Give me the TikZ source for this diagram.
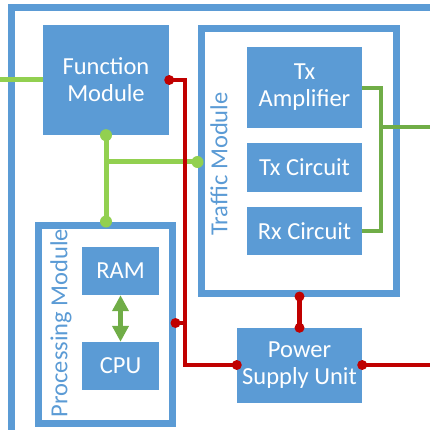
\documentclass[tikz,border=0pt]{standalone}
\usepackage{fontspec}
\setmainfont{Carlito}
\usetikzlibrary{arrows.meta}
\definecolor{mblue}{HTML}{5B9BD5}
\definecolor{lgreen}{HTML}{92D050}
\definecolor{dgreen}{HTML}{70AD47}
\definecolor{dred}{HTML}{C00000}
\tikzset{
  blk/.style={fill=mblue, draw=none, text=white, align=center, inner sep=0pt,
    font=\fontsize{24.5}{27}\selectfont},
  frm/.style={draw=mblue, line width=7pt, fill=none, inner sep=0pt},
  flabel/.style={text=mblue, rotate=90, font=\fontsize{24.5}{27}\selectfont, inner sep=0pt},
  gline/.style={draw=lgreen, line width=5pt},
  rline/.style={draw=dred, line width=4.5pt},
  dgline/.style={draw=dgreen, line width=4.5pt},
  gdot/.style={fill=lgreen},
  rdot/.style={fill=dred},
}
\begin{document}
\begin{tikzpicture}[x=1pt,y=-1pt]
\useasboundingbox (0,0) rectangle (430,430);
\clip (0,0) rectangle (430,430);
% outer frame
\node[frm, minimum width=460pt, minimum height=460pt, anchor=north west] (outer) at (7.5,4.5) {};
% frames
\node[frm, minimum width=195pt, minimum height=264pt] (tm) at (298.5,161) {};
\node[frm, minimum width=134pt, minimum height=198pt] (pm) at (105,324) {};
\node[flabel] (tml) at (219,164) {Traffic Module};
\node[flabel] (pml) at (61,323) {Processing Module};
% blocks
\node[blk, minimum width=126pt, minimum height=110pt] (fm) at (106,80) {Function\\Module};
\node[blk, minimum width=115pt, minimum height=81pt] (txa) at (304.5,87.5) {Tx\\Amplifier};
\node[blk, minimum width=115pt, minimum height=49pt] (txc) at (304.5,167.5) {Tx Circuit};
\node[blk, minimum width=115pt, minimum height=48pt] (rxc) at (304.5,231) {Rx Circuit};
\node[blk, minimum width=125pt, minimum height=75pt] (psu) at (299.5,365.5) {Power\\Supply Unit};
\node[blk, minimum width=77pt, minimum height=48pt] (ram) at (120.5,271) {RAM};
\node[blk, minimum width=77pt, minimum height=48pt] (cpu) at (120.5,366) {CPU};
% coordinates
\coordinate (gin) at (0,80);
\coordinate (gj) at (106,162);
\coordinate (rx1) at (185,80);
\coordinate (rx2) at (185,365);
\coordinate (rj) at (185,323);
\coordinate (rout) at (430,365);
\coordinate (ga) at (381,88);
\coordinate (gb) at (381,231);
\coordinate (gc) at (381,127);
\coordinate (gout) at (430,127);
% green lines left
\draw[gline] (gin) -- (fm.west);
\draw[gline] (fm.south) -- (fm.south |- pm.north);
\draw[gline] (gj) -- (tm.west |- gj);
\fill[gdot] (fm.south) circle (6pt);
\fill[gdot] (fm.south |- pm.north) circle (6pt);
\fill[gdot] (tm.west |- gj) circle (6pt);
% green lines right
\draw[dgline] (txa.east |- ga) -- (ga) -- (gb) -- (rxc.east |- gb);
\draw[dgline] (gc) -- (gout);
% red lines
\draw[rline] (fm.east |- rx1) -- (rx1) -- (rx2) -- (psu.west |- rx2);
\draw[rline] (pm.east |- rj) -- (rj);
\draw[rline] (psu.north) -- (psu.north |- tm.south);
\draw[rline] (psu.east |- rout) -- (rout);
\fill[rdot] (fm.east |- rx1) circle (5pt);
\fill[rdot] (psu.west |- rx2) circle (5pt);
\fill[rdot] (pm.east |- rj) circle (5pt);
\fill[rdot] (psu.north) circle (5pt);
\fill[rdot] (psu.north |- tm.south) circle (5pt);
\fill[rdot] (psu.east |- rout) circle (5pt);
% double arrow
\draw[draw=dgreen, line width=5pt, {Triangle[length=16pt,width=16pt]}-{Triangle[length=16pt,width=16pt]}, fill=dgreen] (ram.south) -- (cpu.north);
\end{tikzpicture}
\end{document}
